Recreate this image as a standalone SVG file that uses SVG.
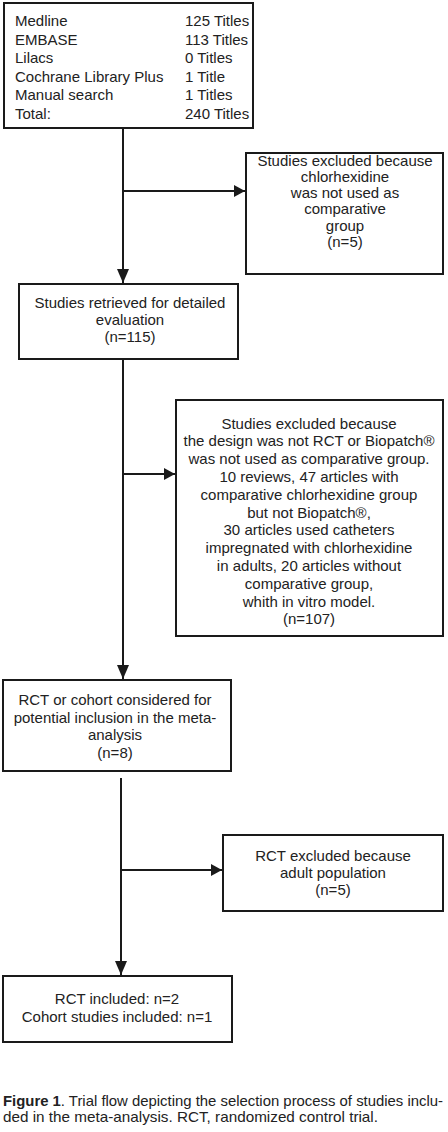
<svg xmlns="http://www.w3.org/2000/svg" width="448" height="1132" viewBox="0 0 448 1132">
<style>
.box{fill:#fff;stroke:#1a1a1a;stroke-width:2}
text{font-family:"Liberation Sans",Arial,sans-serif;font-size:15px;fill:#222}
.c{text-anchor:middle}
.cap{font-size:14.8px}
.ln{stroke:#1a1a1a;stroke-width:2;fill:none}
</style>
<defs>
<marker id="ah" markerUnits="userSpaceOnUse" markerWidth="14" markerHeight="14" viewBox="0 0 14 12" refX="14" refY="6" orient="auto">
<path d="M0,0 L14,6 L0,12 Z" fill="#1a1a1a"/>
</marker>
<marker id="ahs" markerUnits="userSpaceOnUse" markerWidth="11" markerHeight="12" viewBox="0 0 11 12" refX="11" refY="6" orient="auto">
<path d="M0,0 L11,6 L0,12 Z" fill="#1a1a1a"/>
</marker>
</defs>
<g id="connectors">
<line class="ln" x1="123" y1="129" x2="123" y2="283" marker-end="url(#ah)"/>
<line class="ln" x1="123" y1="191" x2="245" y2="191" marker-end="url(#ahs)"/>
<line class="ln" x1="123" y1="359" x2="123" y2="679" marker-end="url(#ah)"/>
<line class="ln" x1="123" y1="474" x2="175" y2="474" marker-end="url(#ahs)"/>
<line class="ln" x1="121" y1="778" x2="121" y2="975" marker-end="url(#ah)"/>
<line class="ln" x1="121" y1="870" x2="222" y2="870" marker-end="url(#ahs)"/>
</g>
<g id="sources">
<rect class="box" x="4" y="3" width="249" height="125"/>
<text x="15" y="26">Medline</text><text x="185" y="26">125 Titles</text>
<text x="15" y="44.5">EMBASE</text><text x="185" y="44.5">113 Titles</text>
<text x="15" y="63">Lilacs</text><text x="185" y="63">0 Titles</text>
<text x="15" y="81.5">Cochrane Library Plus</text><text x="185" y="81.5">1 Title</text>
<text x="15" y="100">Manual search</text><text x="185" y="100">1 Titles</text>
<text x="15" y="118.5">Total:</text><text x="185" y="118.5">240 Titles</text>
</g>
<g id="excluded1">
<rect class="box" x="246" y="153" width="197" height="121"/>
<text class="c" x="345" y="166">Studies excluded because</text>
<text class="c" x="345" y="182">chlorhexidine</text>
<text class="c" x="345" y="198">was not used as</text>
<text class="c" x="345" y="214">comparative</text>
<text class="c" x="345" y="230.5">group</text>
<text class="c" x="345" y="247">(n=5)</text>
</g>
<g id="retrieved">
<rect class="box" x="19" y="284" width="219" height="75"/>
<text class="c" x="130" y="308">Studies retrieved for detailed</text>
<text class="c" x="130" y="325">evaluation</text>
<text class="c" x="130" y="342">(n=115)</text>
</g>
<g id="excluded2">
<rect class="box" x="176" y="400" width="267" height="236"/>
<text class="c" x="309" y="428.5">Studies excluded because</text>
<text class="c" x="309" y="446.3">the design was not RCT or Biopatch®</text>
<text class="c" x="309" y="464.1">was not used as comparative group.</text>
<text class="c" x="309" y="481.9">10 reviews, 47 articles with</text>
<text class="c" x="309" y="499.7">comparative chlorhexidine group</text>
<text class="c" x="309" y="517.5">but not Biopatch®,</text>
<text class="c" x="309" y="535.3">30 articles used catheters</text>
<text class="c" x="309" y="553.1">impregnated with chlorhexidine</text>
<text class="c" x="309" y="570.9">in adults, 20 articles without</text>
<text class="c" x="309" y="588.7">comparative group,</text>
<text class="c" x="309" y="606.5">whith in vitro model.</text>
<text class="c" x="309" y="624.3">(n=107)</text>
</g>
<g id="considered">
<rect class="box" x="3" y="680" width="228" height="91"/>
<text class="c" x="115" y="705">RCT or cohort considered for</text>
<text class="c" x="115" y="722.5">potential inclusion in the meta-</text>
<text class="c" x="115" y="740">analysis</text>
<text class="c" x="115" y="757.5">(n=8)</text>
</g>
<g id="excluded3">
<rect class="box" x="223" y="835" width="220" height="76"/>
<text class="c" x="333" y="861">RCT excluded because</text>
<text class="c" x="333" y="878">adult population</text>
<text class="c" x="333" y="895">(n=5)</text>
</g>
<g id="included">
<rect class="box" x="3" y="976" width="229" height="66"/>
<text class="c" x="117" y="1004">RCT included: n=2</text>
<text class="c" x="117" y="1022">Cohort studies included: n=1</text>
</g>
<g id="caption">
<text class="cap" x="3" y="1106" textLength="440" lengthAdjust="spacingAndGlyphs"><tspan font-weight="bold">Figure 1</tspan>. Trial flow depicting the selection process of studies inclu-</text>
<text class="cap" x="3" y="1122" textLength="375" lengthAdjust="spacingAndGlyphs">ded in the meta-analysis. RCT, randomized control trial.</text>
</g>
</svg>
